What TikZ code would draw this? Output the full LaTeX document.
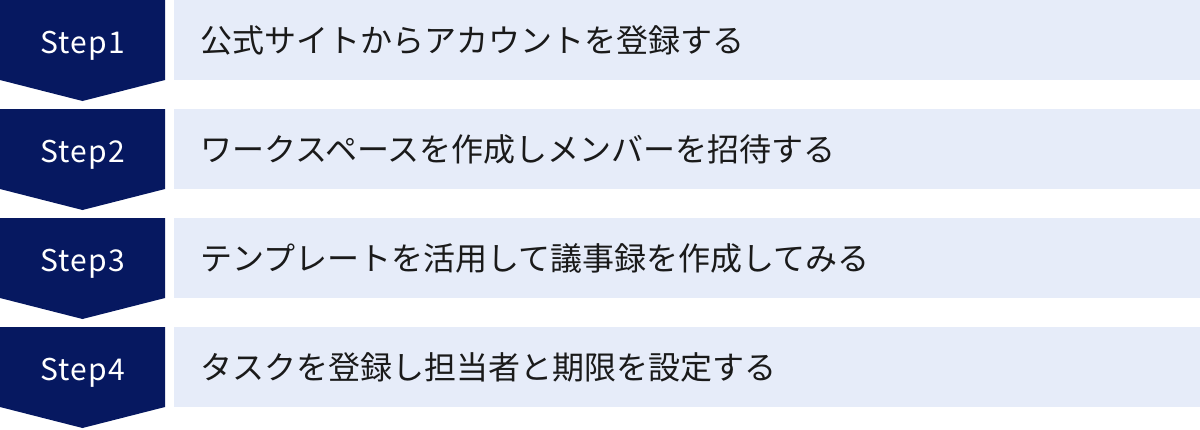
\documentclass[tikz,border=0pt]{standalone}
\usepackage{fontspec}
\setmainfont{Noto Sans CJK JP}
\newfontfamily\jpfont{Noto Sans CJK JP}
\newfontfamily\steplatin[LetterSpace=4]{Noto Sans CJK JP}
\definecolor{navy}{HTML}{061860}
\definecolor{lightbg}{HTML}{E6ECF9}
\definecolor{txt}{HTML}{1A1A1A}
\tikzset{
  x=1pt, y=-1pt,
  stepshape/.style={fill=navy, draw=none},
  barbox/.style={fill=lightbg, draw=none},
  steplabel/.style={text=white, font=\steplatin\fontsize{30}{32}\selectfont, inner sep=0pt, anchor=base},
  barlabel/.style={text=txt, font=\jpfont\fontsize{32}{36}\selectfont, inner sep=0pt, anchor=west},
}
\begin{document}
\begin{tikzpicture}
\useasboundingbox (0,0) rectangle (1200,429);
\foreach \i/\lbl/\txt in {0/Step1/公式サイトからアカウントを登録する,
                          1/Step2/ワークスペースを作成しメンバーを招待する,
                          2/Step3/テンプレートを活用して議事録を作成してみる,
                          3/Step4/タスクを登録し担当者と期限を設定する}{
  \pgfmathsetmacro{\yo}{109*\i}
  \begin{scope}[yshift=-\yo pt]
    \fill[stepshape] (0,0) -- (165,0) -- (165,80) -- (82.5,101) -- (0,80) -- cycle;
    \fill[barbox] (174,0) rectangle (1200,80);
    \node[steplabel] (s\i) at (82.5,53) {\lbl};
    \node[barlabel] (t\i) at (200,40) {\txt};
  \end{scope}
}
\end{tikzpicture}
\end{document}
